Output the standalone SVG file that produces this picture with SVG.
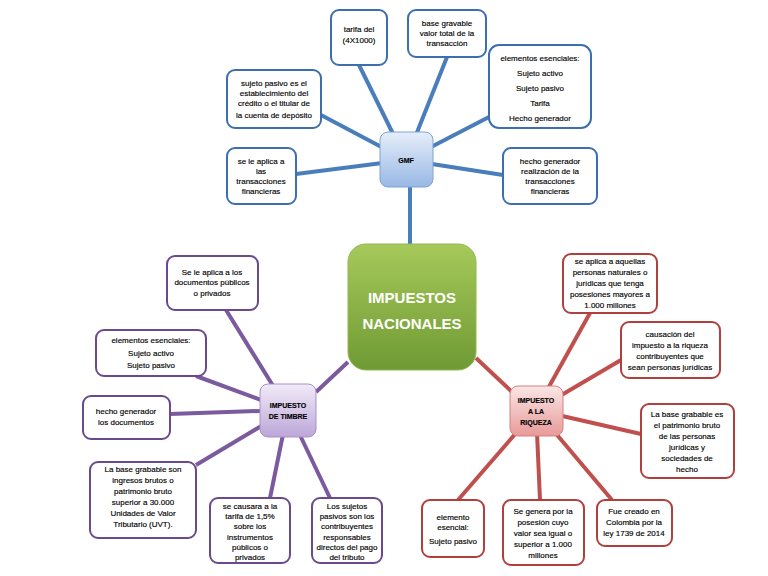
<svg xmlns="http://www.w3.org/2000/svg" width="768" height="576" viewBox="0 0 768 576">
<defs>
<linearGradient id="gG" x1="0" y1="0" x2="0" y2="1"><stop offset="0" stop-color="#a6c95a"/><stop offset="1" stop-color="#6f9a34"/></linearGradient>
<linearGradient id="gB" x1="0" y1="0" x2="0" y2="1"><stop offset="0" stop-color="#e6eefa"/><stop offset="1" stop-color="#98b8e4"/></linearGradient>
<linearGradient id="gP" x1="0" y1="0" x2="0" y2="1"><stop offset="0" stop-color="#f1ebf8"/><stop offset="1" stop-color="#bca6d8"/></linearGradient>
<linearGradient id="gR" x1="0" y1="0" x2="0" y2="1"><stop offset="0" stop-color="#fbe6e6"/><stop offset="1" stop-color="#e79a99"/></linearGradient>
</defs>
<style>
text{font-family:"Liberation Sans",Arial,sans-serif;font-size:8px;fill:#000;text-anchor:middle;stroke:#000;stroke-width:0.15}
.b{fill:#fff;stroke:#3d6fb0;stroke-width:2}
.p{fill:#fff;stroke:#6a4a8c;stroke-width:2}
.r{fill:#fff;stroke:#b0403e;stroke-width:2}
.lb{stroke:#4a7ebb;stroke-width:4;fill:none}
.lp{stroke:#7b5a9e;stroke-width:4;fill:none}
.lr{stroke:#c0504d;stroke-width:4;fill:none}
</style>
<rect width="768" height="576" fill="#fff"/>
<g id="connectors">
<line class="lb" x1="406" y1="160" x2="359" y2="65"/>
<line class="lb" x1="406" y1="160" x2="447" y2="57"/>
<line class="lb" x1="406" y1="160" x2="321" y2="115"/>
<line class="lb" x1="406" y1="160" x2="489" y2="117"/>
<line class="lb" x1="406" y1="160" x2="296" y2="174"/>
<line class="lb" x1="406" y1="160" x2="503" y2="175"/>
<line class="lb" x1="410" y1="187" x2="410" y2="244"/>
<line class="lp" x1="288" y1="410" x2="226" y2="310"/>
<line class="lp" x1="288" y1="410" x2="196" y2="376"/>
<line class="lp" x1="288" y1="410" x2="170" y2="414"/>
<line class="lp" x1="288" y1="410" x2="196" y2="465"/>
<line class="lp" x1="288" y1="410" x2="270" y2="498"/>
<line class="lp" x1="288" y1="410" x2="330" y2="498"/>
<line class="lp" x1="316" y1="392" x2="348" y2="362"/>
<line class="lr" x1="536" y1="410" x2="590" y2="313"/>
<line class="lr" x1="536" y1="410" x2="621" y2="360"/>
<line class="lr" x1="536" y1="410" x2="641" y2="434"/>
<line class="lr" x1="536" y1="410" x2="458" y2="500"/>
<line class="lr" x1="536" y1="410" x2="540" y2="500"/>
<line class="lr" x1="536" y1="410" x2="612" y2="500"/>
<line class="lr" x1="476" y1="358" x2="512" y2="392"/>
</g>
<g id="center"><rect x="348" y="244" width="128" height="126" rx="18" fill="url(#gG)" stroke="#8fb850" stroke-width="1"/>
<text x="412" y="303" style="font-size:15px;fill:#fff;stroke:none;font-weight:bold">IMPUESTOS</text><text x="412" y="329" style="font-size:15px;fill:#fff;stroke:none;font-weight:bold">NACIONALES</text></g>
<g id="gmf"><rect x="380" y="132" width="53" height="55" rx="8" fill="url(#gB)" stroke="#7fa3d6" stroke-width="1"/><text x="406" y="163" style="font-weight:bold;font-size:7px">GMF</text></g>
<g id="g1"><rect class="b" x="331" y="10" width="56" height="55" rx="8"/><text x="359" y="32">tarifa del</text><text x="359" y="43">(4X1000)</text></g>
<g id="g2"><rect class="b" x="408" y="10" width="78" height="47" rx="8"/><text x="447" y="26">base gravable</text><text x="447" y="36">valor total de la</text><text x="447" y="46">transacción</text></g>
<g id="g3"><rect class="b" x="227" y="70" width="94" height="58" rx="8"/><text x="274" y="86">sujeto pasivo es el</text><text x="274" y="96">establecimiento del</text><text x="274" y="106">crédito o el titular de</text><text x="274" y="118">la cuenta de depósito</text></g>
<g id="g4"><rect class="b" x="489" y="45" width="102" height="83" rx="10"/><text x="540" y="61">elementos esenciales:</text><text x="540" y="76">Sujeto activo</text><text x="540" y="91">Sujeto pasivo</text><text x="540" y="106">Tarifa</text><text x="540" y="121">Hecho generador</text></g>
<g id="g5"><rect class="b" x="227" y="148" width="69" height="56" rx="8"/><text x="261" y="164">se le aplica a</text><text x="261" y="174">las</text><text x="261" y="184">transacciones</text><text x="261" y="194">financieras</text></g>
<g id="g6"><rect class="b" x="503" y="148" width="94" height="56" rx="8"/><text x="550" y="164">hecho generador</text><text x="550" y="174">realización de la</text><text x="550" y="184">transacciones</text><text x="550" y="194">financieras</text></g>
<g id="timbre"><rect x="260" y="384" width="56" height="53" rx="8" fill="url(#gP)" stroke="#a890c8" stroke-width="1"/><text x="288" y="408" style="font-weight:bold;font-size:7px">IMPUESTO</text><text x="288" y="419" style="font-weight:bold;font-size:7px">DE TIMBRE</text></g>
<g id="t1"><rect class="p" x="167" y="256" width="91" height="54" rx="8"/><text x="212" y="275">Se le aplica a los</text><text x="212" y="285">documentos públicos</text><text x="212" y="296">o privados</text></g>
<g id="t2"><rect class="p" x="96" y="330" width="110" height="46" rx="8"/><text x="151" y="343">elementos esenciales:</text><text x="151" y="356">Sujeto activo</text><text x="151" y="368">Sujeto pasivo</text></g>
<g id="t3"><rect class="p" x="83" y="396" width="87" height="43" rx="8"/><text x="126" y="414">hecho generador</text><text x="126" y="425">los documentos</text></g>
<g id="t4"><rect class="p" x="90" y="462" width="106" height="76" rx="8"/><text x="143" y="472">La base grabable son</text><text x="143" y="483">ingresos brutos o</text><text x="143" y="494">patrimonio bruto</text><text x="143" y="505">superior a 30.000</text><text x="143" y="516">Unidades de Valor</text><text x="143" y="527">Tributario (UVT).</text></g>
<g id="t5"><rect class="p" x="210" y="498" width="80" height="65" rx="8"/><text x="250" y="509">se causara a la</text><text x="250" y="519">tarifa de 1,5%</text><text x="250" y="529">sobre los</text><text x="250" y="540">instrumentos</text><text x="250" y="550">públicos o</text><text x="250" y="560">privados</text></g>
<g id="t6"><rect class="p" x="312" y="498" width="70" height="65" rx="8"/><text x="347" y="509">Los sujetos</text><text x="347" y="519">pasivos son los</text><text x="347" y="529">contribuyentes</text><text x="347" y="540">responsables</text><text x="347" y="550">directos del pago</text><text x="347" y="560">del tributo</text></g>
<g id="riqueza"><rect x="510" y="386" width="53" height="50" rx="8" fill="url(#gR)" stroke="#d88080" stroke-width="1"/><text x="536" y="403" style="font-weight:bold;font-size:7px">IMPUESTO</text><text x="536" y="414" style="font-weight:bold;font-size:7px">A LA</text><text x="536" y="425" style="font-weight:bold;font-size:7px">RIQUEZA</text></g>
<g id="r1"><rect class="r" x="563" y="254" width="94" height="59" rx="8"/><text x="610" y="264">se aplica a aquellas</text><text x="610" y="275">personas naturales o</text><text x="610" y="286">jurídicas que tenga</text><text x="610" y="297">posesiones mayores a</text><text x="610" y="308">1.000 millones</text></g>
<g id="r2"><rect class="r" x="621" y="322" width="99" height="56" rx="8"/><text x="670" y="337">causación del</text><text x="670" y="348">impuesto a la riqueza</text><text x="670" y="359">contribuyentes que</text><text x="670" y="370">sean personas jurídicas</text></g>
<g id="r3"><rect class="r" x="641" y="404" width="93" height="74" rx="8"/><text x="687" y="417">La base grabable es</text><text x="687" y="428">el patrimonio bruto</text><text x="687" y="439">de las personas</text><text x="687" y="450">jurídicas y</text><text x="687" y="461">sociedades de</text><text x="687" y="472">hecho</text></g>
<g id="r4"><rect class="r" x="422" y="500" width="62" height="57" rx="8"/><text x="453" y="520">elemento</text><text x="453" y="530">esencial:</text><text x="453" y="544">Sujeto pasivo</text></g>
<g id="r5"><rect class="r" x="503" y="500" width="81" height="65" rx="8"/><text x="543" y="514">Se genera por la</text><text x="543" y="525">posesión cuyo</text><text x="543" y="536">valor sea igual o</text><text x="543" y="547">superior a 1.000</text><text x="543" y="558">millones</text></g>
<g id="r6"><rect class="r" x="597" y="500" width="75" height="46" rx="8"/><text x="634" y="514">Fue creado en</text><text x="634" y="525">Colombia por la</text><text x="634" y="536">ley 1739 de 2014</text></g>
</svg>
